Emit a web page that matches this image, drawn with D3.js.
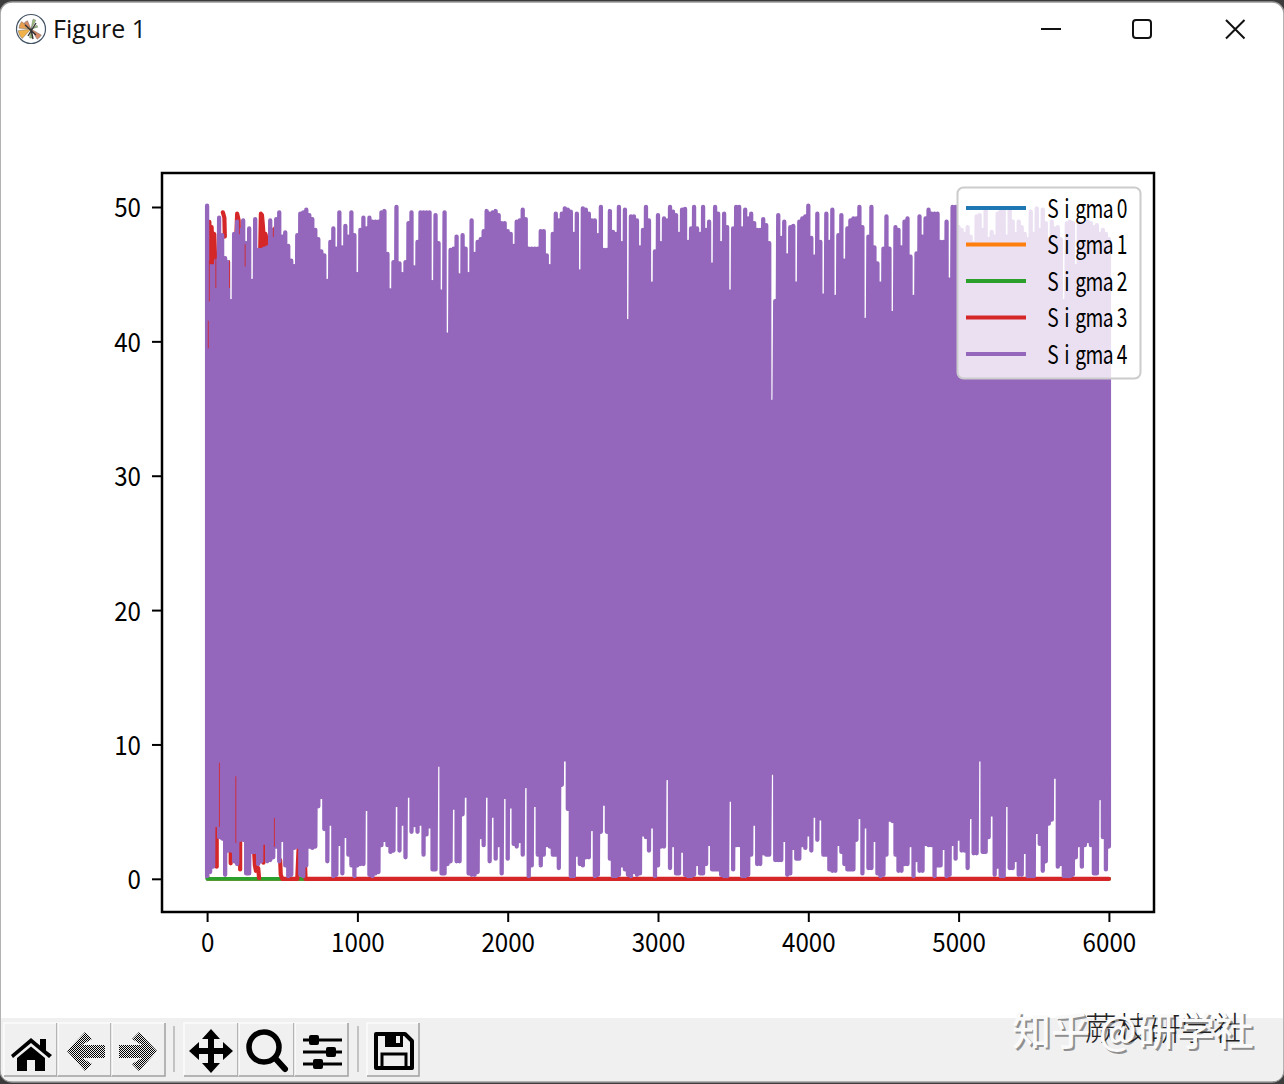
<!DOCTYPE html>
<html><head><meta charset="utf-8">
<script src="https://cdn.jsdelivr.net/npm/d3@7"></script>
<style>html,body{margin:0;padding:0;background:#3c3c3c;overflow:hidden}svg{display:block}</style>
</head><body><svg id="c" width="1284" height="1084"></svg>
<script>
// ---------- data ----------
const seriesNames = ["Sigma0","Sigma1","Sigma2","Sigma3","Sigma4"];
const seriesColors = ["#1f77b4","#ff7f0e","#2ca02c","#d62728","#9467bd"];
const xTicks = [0,1000,2000,3000,4000,5000,6000];
const yTicks = [0,10,20,30,40,50];
const sampleStep = 20;

const sigma0Index = [0,3,6000];
const sigma0Values = [0.5,0,0];
const sigma1Index = [0,4,6000];
const sigma1Values = [0.35,0,0];
const sigma2Index = [2,6000];
const sigma2Values = [0,0];

// Sigma3: visible stretches, null separates them
const sigma3Index = [0,15,22,30,38,46,55,null,64,64,null,105,115,118,null,157,157,null,195,200,210,212,null,220,220,null,313,318,325,340,346,null,353,358,365,372,380,388,398,400,null,375,375,null,486,490,500,600,609,null,652,655,6000];
const sigma3Values = [0.4,48.9,45.8,48.5,45.8,48.0,45.8,null,3.9,0.9,null,49.6,49.2,47.8,null,2,1.15,null,48,49.5,49,47.5,null,2.9,0.7,null,2,1,0.6,0.8,0.05,null,46.6,49.5,49.4,48.5,47,48,47.5,46.5,null,2.7,1.2,null,1.4,0.3,0,0,2.3,null,1,0,0];
// Sigma3: hairline excursions
const sigma3SpikeIndex = [82,191,448,15,58,149,215,253,441,8];
const sigma3SpikeLow  = [3.9,2.7,2.4,43,44,44,48,45.6,47.8,39.5];
const sigma3SpikeHigh = [8.6,7.6,4.5,46,48,46,49,47.2,48.5,41.5];

// Sigma4: peak and trough reached in each sample step
const sigma4Peaks = [
50.1,45.6,45.6,46,49.2,47.9,46.2,45.9,43,48,48.9,48.3,49,47.3,48.4,44.5,49.1,46.8,46.8,46.9,
47,49,48.3,49.1,49.6,47.8,48.1,47.1,46,45.6,47.9,49.5,49.6,49.8,49.4,49.1,48.3,47.6,46.7,46.4,
44.5,47.4,48.4,46.9,49.6,47,48.6,47.8,49.6,47.9,45,48.3,49.2,48.4,49.2,48.9,48.9,48.9,49.6,49.7,
46.5,43.8,45.9,50,45.8,45,45.9,48.8,49.6,45.5,47.4,49.6,49.6,49.6,49.6,44.4,49.4,47.3,43.7,49.6,
40.5,46.8,46.9,47.8,44.9,47.9,46.9,45,49,46.5,47.4,47.6,48.2,49.7,49.5,49.6,49.7,49.4,48.8,48.8,
48.2,48,47.1,48.9,49,49.8,49.1,46.9,46.9,46.9,46.9,48.2,48.2,46.4,45.6,48,49.5,49,49.5,49.9,
49.8,49.65,48,49.5,45.2,49.9,49.8,49.5,49,49,47.9,50,46.8,46.8,49.7,48.15,48,50,47.3,49.8,
41.5,49.3,49.3,49,47,48.3,50,49,44.3,46.7,49.4,47.3,49.15,49,50,49.65,49.4,48,49.8,49.85,
47.4,48.4,50,48.4,48,50,48.3,48.9,45.7,50,49.5,47.3,49.5,48.5,43.7,48.4,50,50,48.4,49.8,
49.15,49.5,48.8,48.3,48.3,49.1,48.65,47.3,35.5,43,49.4,47.7,48.9,46.4,48.5,48.6,44.3,48.9,49.15,49.3,
50.1,47.7,46.3,49.5,47.4,43.4,49.5,47.4,49.8,43.3,47.9,49.4,46,48.4,49,49.15,49.15,50,48.5,41.6,
47.8,50,47,45.8,44.3,46.9,49.3,46.9,42.1,48.5,48.3,47,48.9,49.15,46.3,43.3,46.55,49.3,47.8,49.15,
49.8,49.5,49.5,49.5,47.4,47.4,48.9,44.6,50,50,48.5,48.3,48,48.5,47.8,47.3,49.3,49.4,48.3,49.9,
47.6,48.15,47.8,49.5,49.9,49.9,47.8,49.9,48.9,48,48.9,48.5,48,47.6,49.65,48,49.9,48.3,49.8,48.8,
47.6,48.9,48.4,48.5,47.6,43,48.8,48.9,48.8,45.6,48.8,48.8,48.65,48.9,48.8,48.5,48.65,48,48.3,48,47.6];
const sigma4Troughs = [
0.2,0.5,0.9,4,3.1,3,0.3,2.1,2.1,1.3,1.1,2.9,2.9,0.4,0.4,2,2,1.1,1.3,2.7,
1.3,1.4,1.6,2.4,1.3,2.9,1,0.2,0.3,2.3,2.4,0.3,0.2,1,2.4,2.3,2.4,5.4,6.1,3.7,
1.3,4.1,0.2,0.3,2.6,0.4,3.2,1.8,1,0.2,1,1.1,1.1,5.2,0.3,0.2,0.4,0.5,2.5,2.9,
2.5,2,2.1,5.5,2.1,4.1,1.6,6.2,3.5,4,3.5,4.1,1.8,3.3,3.9,0.7,0.7,8.5,0.4,0.4,
1.1,1.3,5.3,1.3,1.3,4.8,6.2,0.4,0.3,0.3,0.5,3.1,2.5,6.2,1.3,4.7,1.5,2.5,0.4,6.1,
1.5,5.4,2.6,2.4,2.8,1.8,6.9,0.2,1,5.5,1.8,1,1.8,2.5,2.4,1.8,1.8,0.8,7,8.9,
5.2,0.2,0.2,1.8,1.1,1,1.6,1.6,3.7,0.2,0.3,3.5,5.6,3.5,1.5,0.2,0.2,0.3,1,0.7,
0.3,0.2,0.5,0.3,0.4,3.3,3.1,2.1,3.9,0.2,1,2.4,2.4,7.5,0.8,2.5,0.4,0.4,2.1,0.3,
0.2,0.2,0.3,1.1,0.4,0.4,1.1,2.6,0.7,0.7,0.7,0.3,0.2,0.2,5.9,0.7,2.5,2.5,0.2,0.2,
0.3,1.8,4.1,1.1,1.1,1.9,1.8,1.8,7.9,1.4,1.4,1.4,2.9,0.3,0.4,2.3,1.5,1.5,2.5,2.3,
3.3,2.1,4.7,2.9,4.5,1.8,1.8,0.7,0.6,0.6,2.6,2,1.1,0.7,0.7,0.7,2.9,4.6,0.4,3.9,
0.8,0.8,2.9,0.4,0.2,0.3,1.8,4.4,4.3,1.8,0.6,0.6,1.1,1.1,2.5,0.2,1.4,0.6,0.6,2.6,
2.5,2.5,0.2,1,1,2.3,0.2,0.3,2.6,1.5,3,2.1,2.1,0.8,4.6,1.9,1.9,8.9,2,2,
3.1,4.8,0.3,0.9,0.2,0.2,5.5,0.8,0.8,1.4,0.3,0.3,2,0.2,0.2,0.2,3.5,2.6,0.6,1.3,
4.1,4.4,7.6,0.9,1.1,0.2,0.2,0.2,0.3,1.6,2.5,0.9,2.5,2.8,2.5,0.4,0.4,6,3.1,0.7,2.4];

// ---------- scales ----------
const svg = d3.select("#c");
const plot = {left:162,right:1154,top:173,bottom:912};
const x = d3.scaleLinear().domain([-300,6300]).range([plot.left,plot.right]);
const y = d3.scaleLinear().domain([-2.47,52.53]).range([plot.bottom,plot.top]);
const mono = "'Noto Sans CJK SC','Noto Sans CJK JP',sans-serif";

// ---------- window ----------
svg.append("rect").attr("x",0).attr("y",2).attr("width",1284).attr("height",1080).attr("rx",12).attr("fill","#fff").attr("stroke","#9a9a9a").attr("stroke-width",1.5);

// ---------- lines ----------
const g = svg.append("g");
const line = d3.line().defined(d=>d[1]!==null).x(d=>x(d[0])).y(d=>y(d[1]));
const pairs = (a,b)=>a.map((v,i)=>[v,b[i]]);
const stroke = 3.8;
const draw = (pts,color,w=stroke,op=1)=>g.append("path").attr("d",line(pts)).attr("fill","none").attr("stroke",color).attr("stroke-width",w).attr("stroke-opacity",op).attr("stroke-linejoin","round").attr("stroke-linecap","round");
draw(pairs(sigma0Index,sigma0Values),seriesColors[0]);
draw(pairs(sigma1Index,sigma1Values),seriesColors[1]);
draw(pairs(sigma2Index,sigma2Values),seriesColors[2]);
draw(pairs(sigma3Index,sigma3Values),seriesColors[3],4.2);
const sigma4Points = [];
sigma4Peaks.forEach((p,i)=>{sigma4Points.push([i*sampleStep,p]);sigma4Points.push([i*sampleStep,sigma4Troughs[i]]);});
draw(sigma4Points,seriesColors[4],4.3);
sigma3SpikeIndex.forEach((ix,i)=>draw([[ix,sigma3SpikeLow[i]],[ix,sigma3SpikeHigh[i]]],seriesColors[3],1,0.85));

// ---------- axes ----------
const axB = svg.append("g").attr("transform",`translate(0,${plot.bottom})`).call(d3.axisBottom(x).tickValues(xTicks).tickFormat(d3.format("d")).tickSize(10).tickPadding(11));
const axL = svg.append("g").attr("transform",`translate(${plot.left},0)`).call(d3.axisLeft(y).tickValues(yTicks).tickFormat(d3.format("d")).tickSize(10).tickPadding(11));
[axB,axL].forEach(a=>{
  a.select(".domain").remove();
  a.selectAll("line").attr("stroke","#000").attr("stroke-width",2);
  a.selectAll("text").attr("font-family",mono).attr("font-size",27).attr("fill","#000")
   .attr("lengthAdjust","spacingAndGlyphs").attr("textLength",function(){return this.textContent.length*13.4;});
});
axL.selectAll("text").attr("dy","0.37em");
svg.append("rect").attr("x",plot.left).attr("y",plot.top).attr("width",plot.right-plot.left).attr("height",plot.bottom-plot.top).attr("fill","none").attr("stroke","#000").attr("stroke-width",2.5);

// ---------- legend ----------
const legend = svg.append("g");
legend.append("rect").attr("x",957.5).attr("y",187.5).attr("width",183).attr("height",191).attr("rx",6).attr("fill","#fff").attr("fill-opacity",0.8).attr("stroke","#ccc").attr("stroke-width",2);
const legendY = d3.scalePoint().domain(seriesNames).range([208,354]);
const legendScaleX = 0.74, legendCell = 13.8, legendFirst = 1053;
const probe = legend.append("text").attr("font-family",mono).attr("font-size",26);
const charWidth = c => { probe.text(c); return probe.node().getComputedTextLength(); };
seriesNames.forEach((n,i)=>{
  const ly = legendY(n);
  legend.append("line").attr("x1",966).attr("x2",1026).attr("y1",ly).attr("y2",ly).attr("stroke",seriesColors[i]).attr("stroke-width",stroke);
  const xs = [...n].map((c,k)=>((legendFirst+k*legendCell)/legendScaleX - charWidth(c)/2).toFixed(2)).join(" ");
  legend.append("text").attr("transform",`scale(${legendScaleX},1)`).attr("x",xs).attr("y",ly+10).attr("font-family",mono).attr("font-size",26).attr("fill","#000").text(n);
});
probe.remove();

// ---------- title bar ----------
const icon = svg.append("g").attr("transform","translate(31,29)");
icon.append("circle").attr("r",14.5).attr("fill","#fff").attr("stroke","#456").attr("stroke-width",1.2);
const arc = d3.arc().innerRadius(0);
[[-1.5,-0.9,12,"#e8a050"],[-0.9,-0.4,9,"#d98a66"],[-2.4,-1.7,13,"#f1b24a"],[0.2,0.5,10,"#9cc47a"],[2.1,2.6,12,"#d98a66"],[3.0,3.3,9,"#9cc47a"],[1,1.3,7,"#9cc47a"]].forEach(s=>icon.append("path").attr("d",arc.outerRadius(s[2]).startAngle(s[0]).endAngle(s[1])()).attr("fill",s[3]).attr("stroke","#555").attr("stroke-width",.4));
icon.append("path").attr("d","M-6,-4L5,6M5,-6L-3,7M0,0L2,10").attr("stroke","#333").attr("stroke-width",1.4);
svg.append("text").attr("x",53).attr("y",38).attr("font-family","'Open Sans','Noto Sans',sans-serif").attr("font-size",25).attr("fill","#111").text("Figure 1");
svg.append("path").attr("d","M1041,29H1061").attr("stroke","#111").attr("stroke-width",2);
svg.append("rect").attr("x",1133).attr("y",20).attr("width",18).attr("height",18).attr("rx",3).attr("fill","none").attr("stroke","#111").attr("stroke-width",2);
svg.append("path").attr("d","M1226,20L1244.5,38.5M1244.5,20L1226,38.5").attr("stroke","#111").attr("stroke-width",2).attr("fill","none");

// ---------- toolbar ----------
const bar = svg.append("g");
bar.append("path").attr("d","M1,1018H1283V1070Q1283,1081 1272,1081H12Q1,1081 1,1070Z").attr("fill","#f0f0f0");
const defs = svg.append("defs");
const pat = defs.append("pattern").attr("id","chk").attr("width",2).attr("height",2).attr("patternUnits","userSpaceOnUse");
pat.append("rect").attr("width",2).attr("height",2).attr("fill","#eee");
pat.append("rect").attr("width",1).attr("height",1).attr("fill","#000");
pat.append("rect").attr("x",1).attr("y",1).attr("width",1).attr("height",1).attr("fill","#000");
[[4,57],[58,111],[112,165],[184,238],[239,294],[295,348],[367,419]].forEach(b=>{
  bar.append("path").attr("d",`M${b[0]},1076V1023H${b[1]}`).attr("fill","none").attr("stroke","#fcfcfc").attr("stroke-width",1.5);
  bar.append("path").attr("d",`M${b[0]},1076H${b[1]}V1023`).attr("fill","none").attr("stroke","#a0a0a0").attr("stroke-width",1.5);
});
[174,358].forEach(sx=>bar.append("path").attr("d",`M${sx},1026V1072`).attr("stroke","#b5b5b5").attr("stroke-width",1.5));
bar.append("path").attr("d","M11,1055L31,1038L40,1045.5V1039H46V1050.5L52,1055L49,1058L31,1043L13,1058ZM17,1058L31,1046.5L45,1058V1071H35V1060H27V1071H17Z").attr("fill","#000");
bar.append("path").attr("d","M67,1051L85,1032L92,1039L82,1045H105V1058H82L92,1064L85,1071Z").attr("fill","url(#chk)");
bar.append("path").attr("d","M157,1051L139,1032L132,1039L142,1045H119V1058H142L132,1064L139,1071Z").attr("fill","url(#chk)");
bar.append("path").attr("d","M211,1029L220,1039H214V1048H223V1042L233,1051L223,1060V1054H214V1063H220L211,1073L202,1063H208V1054H199V1060L189,1051L199,1042V1048H208V1039H202Z").attr("fill","#000");
bar.append("circle").attr("cx",264).attr("cy",1047).attr("r",15).attr("fill","none").attr("stroke","#000").attr("stroke-width",5.5);
bar.append("path").attr("d","M275,1058L285,1069").attr("stroke","#000").attr("stroke-width",6).attr("stroke-linecap","round");
[[1040,313],[1052,330],[1064,317]].forEach(s=>{
  bar.append("path").attr("d",`M303,${s[0]}H342`).attr("stroke","#000").attr("stroke-width",3);
  bar.append("rect").attr("x",s[1]-4).attr("y",s[0]-5).attr("width",10).attr("height",10).attr("rx",2).attr("fill","#000");
});
bar.append("path").attr("d","M376,1034H405L412,1041V1068H376Z").attr("fill","none").attr("stroke","#000").attr("stroke-width",4).attr("stroke-linejoin","round");
bar.append("path").attr("d","M385,1034H403V1047H385Z").attr("fill","#000");
bar.append("rect").attr("x",396).attr("y",1036).attr("width",4).attr("height",7).attr("fill","#f0f0f0");
bar.append("rect").attr("x",382).attr("y",1054).attr("width",24).attr("height",14).attr("fill","none").attr("stroke","#000").attr("stroke-width",3);

// ---------- watermark ----------
const wm = svg.append("g").attr("font-family","'Noto Sans CJK SC',sans-serif");
wm.append("text").attr("x",1014).attr("y",1047).attr("font-size",39).attr("fill","#8f8f8f").attr("font-weight",500).text("知乎 @研学社");
wm.append("text").attr("x",1085).attr("y",1040).attr("font-size",32).attr("fill","#222").attr("font-weight",300).text("蕨枝研学社");
wm.append("text").attr("x",1012).attr("y",1045).attr("font-size",39).attr("fill","#fafafa").attr("font-weight",500).text("知乎 @研学社");
</script></body></html>
